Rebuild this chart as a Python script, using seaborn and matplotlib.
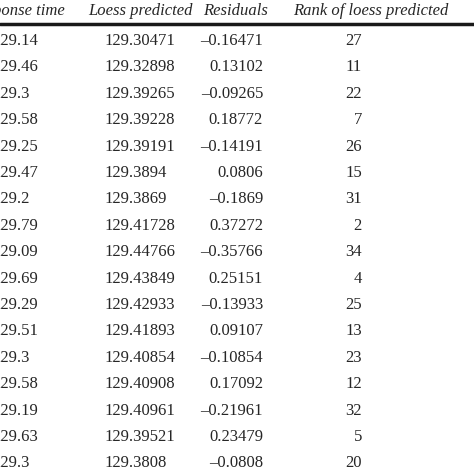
import matplotlib
matplotlib.use('Agg')
import matplotlib.pyplot as plt
import seaborn as sns

headers = ['Response time', 'Loess predicted', 'Residuals', 'Rank of loess predicted']
response = ['129.14', '129.46', '129.3', '129.58', '129.25', '129.47', '129.2', '129.79', '129.09',
            '129.69', '129.29', '129.51', '129.3', '129.58', '129.19', '129.63', '129.3']
loess = ['129.30471', '129.32898', '129.39265', '129.39228', '129.39191', '129.3894', '129.3869',
         '129.41728', '129.44766', '129.43849', '129.42933', '129.41893', '129.40854', '129.40908',
         '129.40961', '129.39521', '129.3808']
residuals = ['\u20130.16471', '0.13102', '\u20130.09265', '0.18772', '\u20130.14191', '0.0806', '\u20130.1869',
             '0.37272', '\u20130.35766', '0.25151', '\u20130.13933', '0.09107', '\u20130.10854', '0.17092',
             '\u20130.21961', '0.23479', '\u20130.0808']
ranks = ['27', '11', '22', '7', '26', '15', '31', '2', '34', '4', '25', '13', '23', '12', '32', '5', '20']

sns.set_theme(style='white')
plt.rcParams['font.family'] = ['Liberation Serif', 'DejaVu Serif']

fig = plt.figure(figsize=(4.74, 4.74), dpi=100)
ax = fig.add_axes([0, 0, 1, 1])
ax.set_xlim(0, 474)
ax.set_ylim(474, 0)
ax.axis('off')

fs = 12
hy = 11
# the reference is a crop, so the first column is cut at the left edge
ax.text(-31, hy, headers[0], style='italic', fontsize=fs, va='center', ha='left', clip_on=True)
ax.text(88, hy, headers[1], style='italic', fontsize=fs, va='center', ha='left')
ax.text(203, hy, headers[2], style='italic', fontsize=fs, va='center', ha='left')
ax.text(293, hy, headers[3], style='italic', fontsize=fs, va='center', ha='left')
ax.axhline(24, color='#1a1a1a', lw=2.5)

y0, dy = 41, 26.4
for i in range(len(response)):
    y = y0 + i * dy
    ax.text(-8, y, response[i], fontsize=fs, va='center', ha='left', clip_on=True)
    ax.text(104, y, loess[i], fontsize=fs, va='center', ha='left')
    ax.text(263, y, residuals[i], fontsize=fs, va='center', ha='right')
    ax.text(362, y, ranks[i], fontsize=fs, va='center', ha='right')

fig.savefig('out.png', dpi=100)
